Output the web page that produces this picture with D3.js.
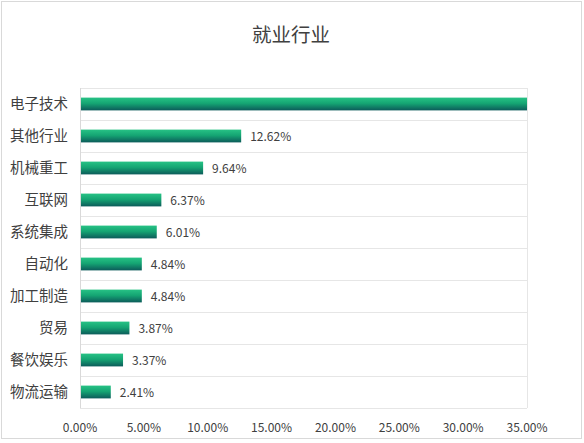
<!DOCTYPE html>
<html>
<head>
    <meta charset="utf-8" />
    <title>就业行业</title>
    <style>
        body { margin: 0; background: #fff; }
        text { font-family: "Noto Sans CJK SC", "Noto Sans", sans-serif; fill: #404040; }
        .grid line { stroke: #e6e6e6; stroke-width: 1px; }
    </style>
</head>
<body>
    <script src="https://d3js.org/d3.v7.min.js"></script>
    <script>
      var categories = ["电子技术", "其他行业", "机械重工", "互联网", "系统集成", "自动化", "加工制造", "贸易", "餐饮娱乐", "物流运输"];
      var values = [46.03, 12.62, 9.64, 6.37, 6.01, 4.84, 4.84, 3.87, 3.37, 2.41];
      var ticks = [0, 5, 10, 15, 20, 25, 30, 35];

      var width = 584, height = 443;
      var plotLeft = 80, plotRight = 527, plotTop = 88, plotBottom = 408;

      var svg = d3.select("body").append("svg")
        .attr("width", width)
        .attr("height", height);

      var grad = svg.append("defs").append("linearGradient")
        .attr("id", "bargrad")
        .attr("x1", 0).attr("y1", 0).attr("x2", 0).attr("y2", 1);
      grad.append("stop").attr("offset", "0%").attr("stop-color", "#27c285");
      grad.append("stop").attr("offset", "45%").attr("stop-color", "#15a573");
      grad.append("stop").attr("offset", "100%").attr("stop-color", "#0c5b5a");

      // outer frame
      svg.append("rect")
        .attr("x", 1.5).attr("y", 1.5)
        .attr("width", width - 4).attr("height", height - 6)
        .attr("fill", "none").attr("stroke", "#d9d9d9");

      svg.append("text")
        .attr("x", 291).attr("y", 42)
        .attr("text-anchor", "middle")
        .style("font-size", "19.5px")
        .text("就业行业");

      var x = d3.scaleLinear().domain([0, 35]).range([plotLeft, plotRight]);
      var y = d3.scaleBand().domain(categories).range([plotTop, plotBottom]).paddingInner(0.6).paddingOuter(0.3);
      var yb = d3.scaleBand().domain(categories).range([plotTop, plotBottom]);

      // horizontal gridlines between categories
      var grid = svg.append("g").attr("class", "grid");
      grid.selectAll("line.h")
        .data(categories.concat(["_end"]))
        .enter().append("line")
        .attr("x1", plotLeft).attr("x2", plotRight)
        .attr("y1", function(d, i) { return Math.round(plotTop + i * yb.step()) + 0.5; })
        .attr("y2", function(d, i) { return Math.round(plotTop + i * yb.step()) + 0.5; });
      grid.append("line")
        .attr("x1", plotRight + 0.5).attr("x2", plotRight + 0.5)
        .attr("y1", plotTop).attr("y2", plotBottom);
      grid.append("line")
        .attr("x1", plotLeft + 0.5).attr("x2", plotLeft + 0.5)
        .attr("y1", plotTop).attr("y2", plotBottom)
        .style("stroke", "#d9d9d9");

      // bars
      svg.append("g").selectAll("rect")
        .data(values)
        .enter().append("rect")
        .attr("x", x(0) + 1)
        .attr("y", function(d, i) { return y(categories[i]); })
        .attr("width", function(d) { return x(Math.min(d, 35)) - x(0) - 1; })
        .attr("height", y.bandwidth())
        .attr("fill", "url(#bargrad)");

      // value labels (hidden when beyond axis max)
      svg.append("g").selectAll("text")
        .data(values.filter(function(d) { return d <= 35; }))
        .enter().append("text")
        .attr("x", function(d) { return x(d) + 9; })
        .attr("y", function(d, i) { return y(categories[i + 1]) + y.bandwidth() / 2 + 5; })
        .style("font-size", "12px")
        .text(function(d) { return d.toFixed(2) + "%"; });

      // category labels
      svg.append("g").selectAll("text")
        .data(categories)
        .enter().append("text")
        .attr("x", 68)
        .attr("y", function(d) { return y(d) + y.bandwidth() / 2 + 5; })
        .attr("text-anchor", "end")
        .style("font-size", "14.5px")
        .text(function(d) { return d; });

      // x axis tick labels
      svg.append("g").selectAll("text")
        .data(ticks)
        .enter().append("text")
        .attr("x", function(d) { return x(d); })
        .attr("y", 432)
        .attr("text-anchor", "middle")
        .style("font-size", "12px")
        .text(function(d) { return d.toFixed(2) + "%"; });
    </script>
</body>
</html>
